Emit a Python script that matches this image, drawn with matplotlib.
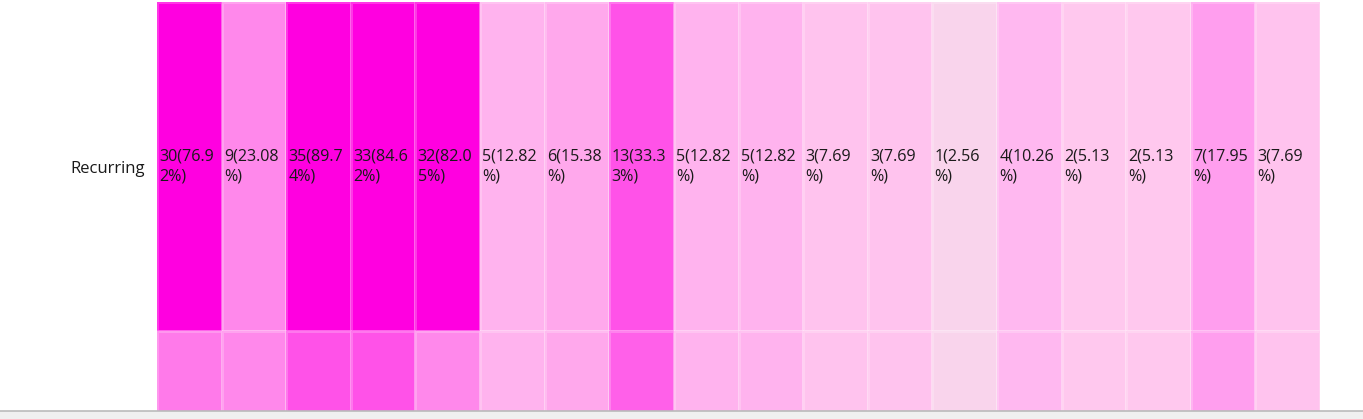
import matplotlib
matplotlib.use("Agg")
import matplotlib.pyplot as plt
import numpy as np
from matplotlib.colors import LinearSegmentedColormap, Normalize
from matplotlib.patches import Rectangle

# row shown in full, plus the top of the next row (cut off by the frame)
row_labels = ["Recurring", ""]
recurring = [30, 9, 35, 33, 32, 5, 6, 13, 5, 5, 3, 3, 1, 4, 2, 2, 7, 3]
recurring_pct = [76.92, 23.08, 89.74, 84.62, 82.05, 12.82, 15.38, 33.33, 12.82,
                 12.82, 7.69, 7.69, 2.56, 10.26, 5.13, 5.13, 17.95, 7.69]
next_row = [10, 9, 13, 13, 9, 5, 6, 12, 5, 5, 3, 3, 1, 4, 2, 2, 7, 3]

# colour scale (count -> colour)
stop_values = [0, 1, 2, 3, 4, 5, 6, 7, 9, 13, 20]
stop_colors = ["#f8dcee", "#f9d3ec", "#ffc8ee", "#ffc3ee", "#ffb8f0", "#ffb3ee",
               "#ffa8ec", "#ff9eee", "#ff88eb", "#ff52e8", "#ff00e0"]
vmax = stop_values[-1]
cmap = LinearSegmentedColormap.from_list(
    "pinks", [(v / vmax, c) for v, c in zip(stop_values, stop_colors)])

W, H = 1363, 419
fig = plt.figure(figsize=(W / 100, H / 100), dpi=100)
ax = fig.add_axes([157 / W, 1 - 411 / H, (1320 - 157) / W, (411 - 2) / H])

data = np.array([recurring, next_row])
ax.pcolormesh(data, cmap=cmap, norm=Normalize(0, vmax, clip=True),
              edgecolors=(1, 1, 1, 0.22), linewidth=1.0)
ax.set_xlim(0, len(recurring))
ax.set_ylim(1 + 80 / 329, 0)
ax.set_xticks([])
ax.set_yticks([0.5])
ax.set_yticklabels(row_labels[:1], fontsize=12, family="Open Sans", color="#1a1a1a")
ax.tick_params(axis="y", length=0, pad=9)
for s in ax.spines.values():
    s.set_visible(False)

# cell labels, wrapped to the cell width
renderer = fig.canvas.get_renderer()
cell_px = (1320 - 157) / len(recurring)
txt_kw = dict(fontsize=11.6, family="Open Sans", color="#1a1a1a")


def text_width(s):
    t = fig.text(0, 0, s, **txt_kw)
    w = t.get_window_extent(renderer).width
    t.remove()
    return w


for i, (v, p) in enumerate(zip(recurring, recurring_pct)):
    # "%)" stays together when the label is broken
    tokens = list(f"{v}({p:.2f}") + ["%)"]
    lines, cur = [], ""
    for tok in tokens:
        if cur and text_width(cur + tok) > cell_px - 4:
            lines.append(cur)
            cur = tok
        else:
            cur += tok
    lines.append(cur)
    ax.text(i + 0.035, 0.5, "\n".join(lines), ha="left", va="center",
            linespacing=1.3, **txt_kw)

# grey strip along the bottom
fig.patches.append(Rectangle((0, 0), 1, 8 / H, transform=fig.transFigure,
                             facecolor="#f0f0f0", edgecolor="none"))
fig.lines.append(plt.Line2D([0, 1], [8 / H, 8 / H], transform=fig.transFigure,
                            color="#bbbbbb", linewidth=1.2))

fig.savefig("out.png", dpi=100)
